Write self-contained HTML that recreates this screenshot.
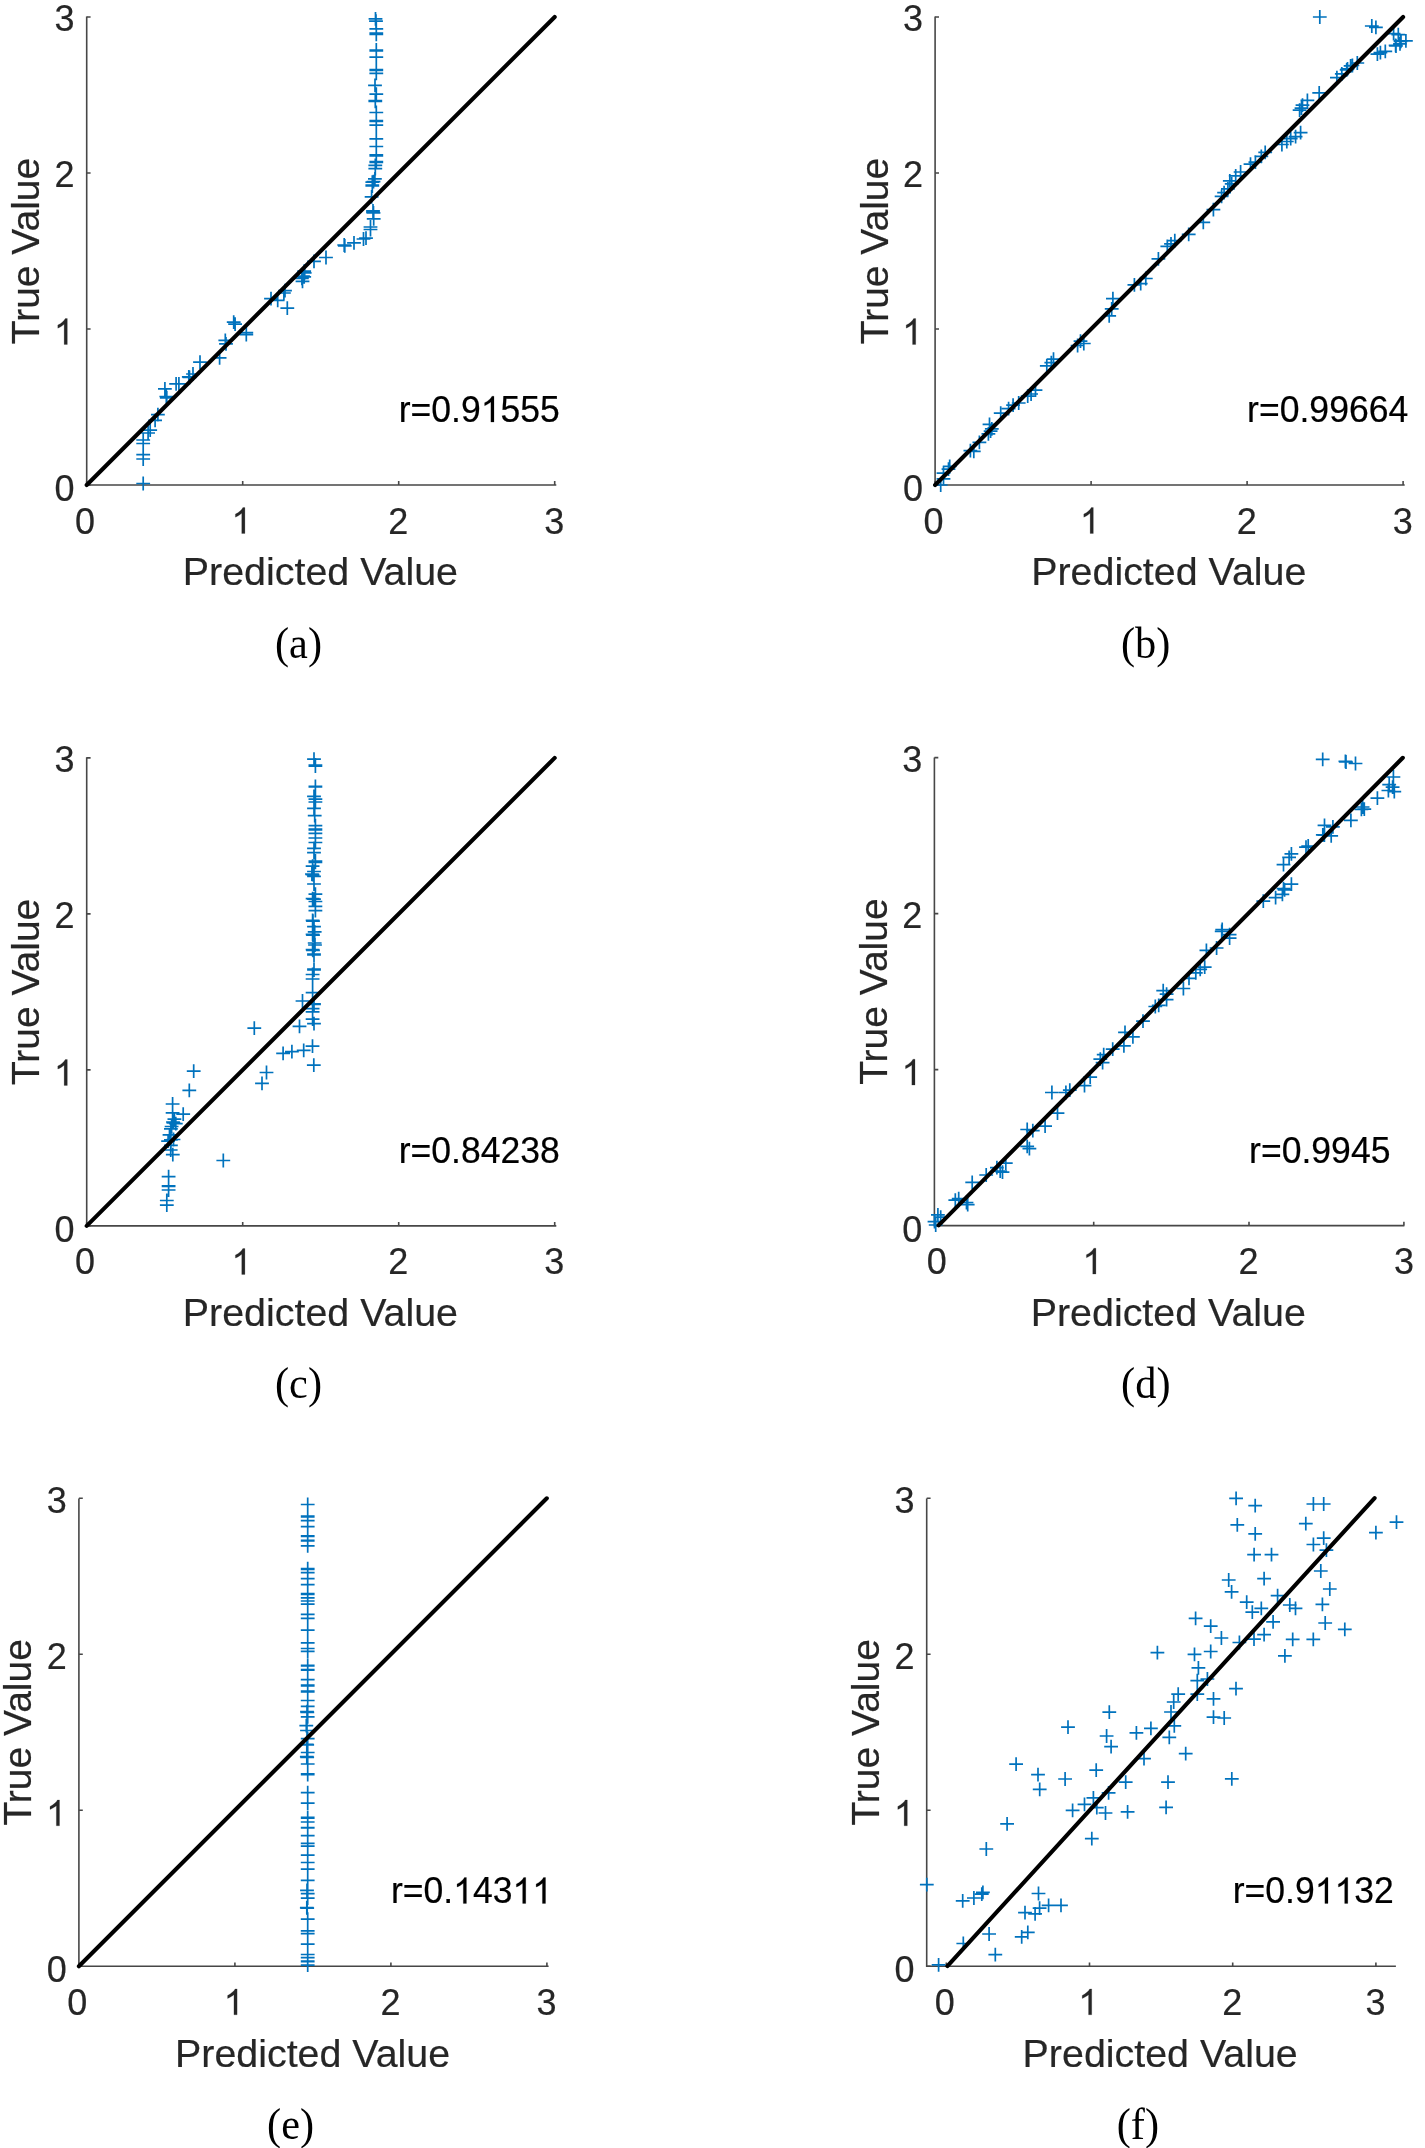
<!DOCTYPE html>
<html><head><meta charset="utf-8"><style>
html,body{margin:0;padding:0;background:#fff;overflow:hidden;}
svg{display:block;will-change:transform;}
.tk{font-family:"Liberation Sans",sans-serif;font-size:36.0px;fill:#262626;stroke:#262626;stroke-width:0.2px;}
.lbx{font-family:"Liberation Sans",sans-serif;font-size:39.4px;fill:#262626;stroke:#262626;stroke-width:0.2px;}
.rt{font-family:"Liberation Sans",sans-serif;font-size:36px;fill:#000;stroke:#000;stroke-width:0.2px;}
.lby{font-family:"Liberation Sans",sans-serif;font-size:39px;fill:#262626;stroke:#262626;stroke-width:0.2px;}
.cap{font-family:"Liberation Serif",serif;font-size:43px;fill:#000;}
</style></head><body>
<svg width="1425" height="2148" viewBox="0 0 1425 2148">
<rect width="1425" height="2148" fill="#fff"/>
<path d="M86.7 16.5V485.0H556.3" fill="none" stroke="#474747" stroke-width="1.6"/>
<path d="M86.7 485.0v-3.9M86.7 485.0h3.9M242.7 485.0v-3.9M86.7 329.0h3.9M398.7 485.0v-3.9M86.7 173.0h3.9M554.7 485.0v-3.9M86.7 17.0h3.9" stroke="#474747" stroke-width="1.6"/>
<text x="85.1" y="533.5" text-anchor="middle" class="tk">0</text>
<text x="74.6" y="501.0" text-anchor="end" class="tk">0</text>
<path transform="translate(231.50 533.50) scale(0.01758 -0.01758)" d="M763 0H583V1147Q518 1085 412 1023Q306 961 222 930V1104Q373 1175 486 1276Q599 1377 646 1472H763Z" fill="#262626" stroke="#262626" stroke-width="11.4"/>
<path transform="translate(53.90 344.50) scale(0.01758 -0.01758)" d="M763 0H583V1147Q518 1085 412 1023Q306 961 222 930V1104Q373 1175 486 1276Q599 1377 646 1472H763Z" fill="#262626" stroke="#262626" stroke-width="11.4"/>
<text x="398.3" y="533.5" text-anchor="middle" class="tk">2</text>
<text x="74.6" y="187.2" text-anchor="end" class="tk">2</text>
<text x="554.3" y="533.5" text-anchor="middle" class="tk">3</text>
<text x="74.6" y="31.3" text-anchor="end" class="tk">3</text>
<path d="M368.6 18.9h13.8M375.5 12.0v13.8M369.1 21.1h13.8M376.0 14.2v13.8M369.4 28.8h13.8M376.3 21.9v13.8M369.4 33.0h13.8M376.3 26.1v13.8M369.4 34.4h13.8M376.3 27.5v13.8M369.4 50.0h13.8M376.3 43.1v13.8M369.4 50.8h13.8M376.3 43.9v13.8M369.4 57.2h13.8M376.3 50.3v13.8M369.4 69.5h13.8M376.3 62.6v13.8M369.4 70.3h13.8M376.3 63.4v13.8M369.4 73.3h13.8M376.3 66.4v13.8M368.1 85.3h13.8M375.0 78.4v13.8M369.4 94.1h13.8M376.3 87.2v13.8M368.4 100.5h13.8M375.3 93.6v13.8M368.4 101.3h13.8M375.3 94.4v13.8M369.4 112.5h13.8M376.3 105.6v13.8M369.4 120.5h13.8M376.3 113.6v13.8M369.4 121.5h13.8M376.3 114.6v13.8M369.4 125.1h13.8M376.3 118.2v13.8M369.4 138.8h13.8M376.3 131.9v13.8M369.4 146.5h13.8M376.3 139.6v13.8M369.4 154.8h13.8M376.3 147.9v13.8M369.4 155.8h13.8M376.3 148.9v13.8M369.4 161.5h13.8M376.3 154.6v13.8M369.4 162.3h13.8M376.3 155.4v13.8M368.4 165.4h13.8M375.3 158.5v13.8M368.4 168.6h13.8M375.3 161.7v13.8M368.0 178.8h13.8M374.9 171.9v13.8M366.6 181.6h13.8M373.5 174.7v13.8M365.4 185.0h13.8M372.3 178.1v13.8M365.4 186.0h13.8M372.3 179.1v13.8M365.4 182.1h13.8M372.3 175.2v13.8M364.7 196.8h13.8M371.6 189.9v13.8M366.1 210.9h13.8M373.0 204.0v13.8M366.1 212.3h13.8M373.0 205.4v13.8M366.6 212.8h13.8M373.5 205.9v13.8M366.8 218.9h13.8M373.7 212.0v13.8M363.6 227.0h13.8M370.5 220.1v13.8M363.6 229.5h13.8M370.5 222.6v13.8M359.1 238.2h13.8M366.0 231.3v13.8M356.6 239.0h13.8M363.5 232.1v13.8M347.1 242.8h13.8M354.0 235.9v13.8M337.3 245.0h13.8M344.2 238.1v13.8M337.9 245.8h13.8M344.8 238.9v13.8M319.1 257.5h13.8M326.0 250.6v13.8M307.1 261.4h13.8M314.0 254.5v13.8M297.3 271.2h13.8M304.2 264.3v13.8M297.3 276.8h13.8M304.2 269.9v13.8M297.8 272.8h13.8M304.7 265.9v13.8M295.0 278.4h13.8M301.9 271.5v13.8M296.1 276.0h13.8M303.0 269.1v13.8M278.1 290.7h13.8M285.0 283.8v13.8M277.0 293.0h13.8M283.9 286.1v13.8M264.1 298.6h13.8M271.0 291.7v13.8M270.8 300.3h13.8M277.7 293.4v13.8M280.4 308.1h13.8M287.3 301.2v13.8M295.6 281.4h13.8M302.5 274.5v13.8M226.8 322.1h13.8M233.7 315.2v13.8M228.2 324.2h13.8M235.1 317.3v13.8M239.4 332.6h13.8M246.3 325.7v13.8M239.4 334.7h13.8M246.3 327.8v13.8M218.4 340.4h13.8M225.3 333.5v13.8M219.1 343.9h13.8M226.0 337.0v13.8M212.7 357.9h13.8M219.6 351.0v13.8M193.1 362.1h13.8M200.0 355.2v13.8M186.1 374.0h13.8M193.0 367.1v13.8M181.9 376.8h13.8M188.8 369.9v13.8M182.6 377.5h13.8M189.5 370.6v13.8M169.2 383.9h13.8M176.1 377.0v13.8M172.0 383.9h13.8M178.9 377.0v13.8M158.0 388.8h13.8M164.9 381.9v13.8M159.4 396.5h13.8M166.3 389.6v13.8M159.9 397.8h13.8M166.8 390.9v13.8M151.0 414.7h13.8M157.9 407.8v13.8M148.2 420.4h13.8M155.1 413.5v13.8M143.3 430.2h13.8M150.2 423.3v13.8M141.2 433.0h13.8M148.1 426.1v13.8M136.3 440.0h13.8M143.2 433.1v13.8M136.3 443.5h13.8M143.2 436.6v13.8M136.3 454.7h13.8M143.2 447.8v13.8M136.3 459.0h13.8M143.2 452.1v13.8M136.3 483.5h13.8M143.2 476.6v13.8" stroke="#0072BD" stroke-width="1.7" fill="none"/>
<path d="M86.7 485.0L554.7 17.0" stroke="#000" stroke-width="4.1" stroke-linecap="round"/>
<g transform="translate(398.70 422.10) scale(0.988 1.03)"><text x="0.00" y="0" class="rt">r=0.9</text><path transform="translate(83.05 0.00) scale(0.01758 -0.01707)" d="M763 0H583V1147Q518 1085 412 1023Q306 961 222 930V1104Q373 1175 486 1276Q599 1377 646 1472H763Z" fill="#000" stroke="#000" stroke-width="11.4"/><text x="103.07" y="0" class="rt">555</text></g>
<text x="320.4" y="585.2" text-anchor="middle" class="lbx">Predicted Value</text>
<text transform="translate(39.1 251.0) rotate(-90)" text-anchor="middle" class="lby">True Value</text>
<g transform="translate(298.5 658.0) scale(0.985 1.035)"><text x="0" y="0" text-anchor="middle" class="cap">(a)</text></g>
<path d="M935.1 16.5V485.0H1404.7" fill="none" stroke="#474747" stroke-width="1.6"/>
<path d="M935.1 485.0v-3.9M935.1 485.0h3.9M1091.1 485.0v-3.9M935.1 329.0h3.9M1247.1 485.0v-3.9M935.1 173.0h3.9M1403.1 485.0v-3.9M935.1 17.0h3.9" stroke="#474747" stroke-width="1.6"/>
<text x="933.5" y="533.5" text-anchor="middle" class="tk">0</text>
<text x="923.0" y="501.0" text-anchor="end" class="tk">0</text>
<path transform="translate(1079.90 533.50) scale(0.01758 -0.01758)" d="M763 0H583V1147Q518 1085 412 1023Q306 961 222 930V1104Q373 1175 486 1276Q599 1377 646 1472H763Z" fill="#262626" stroke="#262626" stroke-width="11.4"/>
<path transform="translate(902.30 344.50) scale(0.01758 -0.01758)" d="M763 0H583V1147Q518 1085 412 1023Q306 961 222 930V1104Q373 1175 486 1276Q599 1377 646 1472H763Z" fill="#262626" stroke="#262626" stroke-width="11.4"/>
<text x="1246.7" y="533.5" text-anchor="middle" class="tk">2</text>
<text x="923.0" y="187.2" text-anchor="end" class="tk">2</text>
<text x="1402.7" y="533.5" text-anchor="middle" class="tk">3</text>
<text x="923.0" y="31.3" text-anchor="end" class="tk">3</text>
<path d="M933.8 485.0h13.8M940.7 478.1v13.8M936.6 478.8h13.8M943.5 471.9v13.8M936.6 473.2h13.8M943.5 466.3v13.8M941.6 469.2h13.8M948.5 462.3v13.8M942.8 466.4h13.8M949.7 459.5v13.8M963.5 450.7h13.8M970.4 443.8v13.8M966.9 451.3h13.8M973.8 444.4v13.8M972.5 442.3h13.8M979.4 435.4v13.8M983.7 431.1h13.8M990.6 424.2v13.8M984.9 428.8h13.8M991.8 421.9v13.8M982.6 424.3h13.8M989.5 417.4v13.8M981.5 433.9h13.8M988.4 427.0v13.8M993.8 413.1h13.8M1000.7 406.2v13.8M1001.7 408.6h13.8M1008.6 401.7v13.8M1006.2 405.2h13.8M1013.1 398.3v13.8M1011.8 403.0h13.8M1018.7 396.1v13.8M1020.8 396.2h13.8M1027.7 389.3v13.8M1024.2 394.0h13.8M1031.1 387.1v13.8M1028.6 390.1h13.8M1035.5 383.2v13.8M1039.9 365.9h13.8M1046.8 359.0v13.8M1044.4 362.6h13.8M1051.3 355.7v13.8M1046.6 359.2h13.8M1053.5 352.3v13.8M1073.6 341.2h13.8M1080.5 334.3v13.8M1076.9 343.5h13.8M1083.8 336.6v13.8M1070.7 345.5h13.8M1077.6 338.6v13.8M1102.3 315.8h13.8M1109.2 308.9v13.8M1104.8 308.8h13.8M1111.7 301.9v13.8M1106.0 298.7h13.8M1112.9 291.8v13.8M1127.5 284.8h13.8M1134.4 277.9v13.8M1133.8 283.6h13.8M1140.7 276.7v13.8M1138.9 278.5h13.8M1145.8 271.6v13.8M1151.5 258.9h13.8M1158.4 252.0v13.8M1160.4 246.3h13.8M1167.3 239.4v13.8M1164.1 243.8h13.8M1171.0 236.9v13.8M1167.9 240.6h13.8M1174.8 233.7v13.8M1181.8 234.3h13.8M1188.7 227.4v13.8M1196.4 222.3h13.8M1203.3 215.4v13.8M1206.5 209.7h13.8M1213.4 202.8v13.8M1214.7 196.4h13.8M1221.6 189.5v13.8M1217.2 192.6h13.8M1224.1 185.7v13.8M1221.0 188.8h13.8M1227.9 181.9v13.8M1224.8 183.8h13.8M1231.7 176.9v13.8M1222.9 180.8h13.8M1229.8 173.9v13.8M1228.8 175.9h13.8M1235.7 169.0v13.8M1233.7 172.0h13.8M1240.6 165.1v13.8M1243.6 164.1h13.8M1250.5 157.2v13.8M1248.5 162.2h13.8M1255.4 155.3v13.8M1254.4 156.3h13.8M1261.3 149.4v13.8M1258.3 152.3h13.8M1265.2 145.4v13.8M1275.0 144.5h13.8M1281.9 137.6v13.8M1279.9 141.5h13.8M1286.8 134.6v13.8M1283.8 138.6h13.8M1290.7 131.7v13.8M1288.7 136.6h13.8M1295.6 129.7v13.8M1293.7 132.7h13.8M1300.6 125.8v13.8M1292.7 110.1h13.8M1299.6 103.2v13.8M1294.6 108.1h13.8M1301.5 101.2v13.8M1295.6 105.2h13.8M1302.5 98.3v13.8M1300.5 100.3h13.8M1307.4 93.4v13.8M1312.3 92.9h13.8M1319.2 86.0v13.8M1330.0 77.7h13.8M1336.9 70.8v13.8M1334.9 73.8h13.8M1341.8 66.9v13.8M1339.8 69.8h13.8M1346.7 62.9v13.8M1343.7 65.9h13.8M1350.6 59.0v13.8M1340.6 68.9h13.8M1347.5 62.0v13.8M1345.5 65.5h13.8M1352.4 58.6v13.8M1350.4 63.0h13.8M1357.3 56.1v13.8M1312.9 17.0h13.8M1319.8 10.1v13.8M1364.9 26.0h13.8M1371.8 19.1v13.8M1369.0 27.4h13.8M1375.9 20.5v13.8M1386.7 33.6h13.8M1393.6 26.7v13.8M1391.4 34.6h13.8M1398.3 27.7v13.8M1394.1 40.9h13.8M1401.0 34.0v13.8M1393.6 41.5h13.8M1400.5 34.6v13.8M1399.0 40.9h13.8M1405.9 34.0v13.8M1388.7 45.4h13.8M1395.6 38.5v13.8M1389.1 46.0h13.8M1396.0 39.1v13.8M1393.1 43.9h13.8M1400.0 37.0v13.8M1378.4 51.3h13.8M1385.3 44.4v13.8M1373.5 52.7h13.8M1380.4 45.8v13.8M1370.5 54.2h13.8M1377.4 47.3v13.8" stroke="#0072BD" stroke-width="1.7" fill="none"/>
<path d="M935.1 485.0L1403.1 17.0" stroke="#000" stroke-width="4.1" stroke-linecap="round"/>
<g transform="translate(1247.10 422.10) scale(0.988 1.03)"><text x="0.00" y="0" class="rt">r=0.99664</text></g>
<text x="1168.8" y="585.2" text-anchor="middle" class="lbx">Predicted Value</text>
<text transform="translate(887.5 251.0) rotate(-90)" text-anchor="middle" class="lby">True Value</text>
<g transform="translate(1145.6 658.0) scale(0.985 1.035)"><text x="0" y="0" text-anchor="middle" class="cap">(b)</text></g>
<path d="M86.7 757.3V1225.9H556.3" fill="none" stroke="#474747" stroke-width="1.6"/>
<path d="M86.7 1225.9v-3.9M86.7 1225.9h3.9M242.7 1225.9v-3.9M86.7 1069.9h3.9M398.7 1225.9v-3.9M86.7 913.9h3.9M554.7 1225.9v-3.9M86.7 757.9h3.9" stroke="#474747" stroke-width="1.6"/>
<text x="85.1" y="1274.4" text-anchor="middle" class="tk">0</text>
<text x="74.6" y="1241.9" text-anchor="end" class="tk">0</text>
<path transform="translate(231.50 1274.40) scale(0.01758 -0.01758)" d="M763 0H583V1147Q518 1085 412 1023Q306 961 222 930V1104Q373 1175 486 1276Q599 1377 646 1472H763Z" fill="#262626" stroke="#262626" stroke-width="11.4"/>
<path transform="translate(53.90 1085.40) scale(0.01758 -0.01758)" d="M763 0H583V1147Q518 1085 412 1023Q306 961 222 930V1104Q373 1175 486 1276Q599 1377 646 1472H763Z" fill="#262626" stroke="#262626" stroke-width="11.4"/>
<text x="398.3" y="1274.4" text-anchor="middle" class="tk">2</text>
<text x="74.6" y="928.1" text-anchor="end" class="tk">2</text>
<text x="554.3" y="1274.4" text-anchor="middle" class="tk">3</text>
<text x="74.6" y="772.2" text-anchor="end" class="tk">3</text>
<path d="M307.1 759.1h13.8M314.0 752.2v13.8M308.5 765.0h13.8M315.4 758.1v13.8M308.5 766.1h13.8M315.4 759.2v13.8M308.5 786.3h13.8M315.4 779.4v13.8M308.5 786.9h13.8M315.4 780.0v13.8M307.1 796.4h13.8M314.0 789.5v13.8M308.5 799.2h13.8M315.4 792.3v13.8M308.5 802.0h13.8M315.4 795.1v13.8M307.1 808.3h13.8M314.0 801.4v13.8M307.8 815.6h13.8M314.7 808.7v13.8M308.5 825.7h13.8M315.4 818.8v13.8M308.5 829.2h13.8M315.4 822.3v13.8M308.5 830.0h13.8M315.4 823.1v13.8M308.5 833.4h13.8M315.4 826.5v13.8M308.5 838.0h13.8M315.4 831.1v13.8M308.5 842.5h13.8M315.4 835.6v13.8M307.1 848.4h13.8M314.0 841.5v13.8M307.1 852.6h13.8M314.0 845.7v13.8M308.5 861.0h13.8M315.4 854.1v13.8M308.5 862.4h13.8M315.4 855.5v13.8M305.7 866.2h13.8M312.6 859.3v13.8M307.1 871.5h13.8M314.0 864.6v13.8M305.0 874.0h13.8M311.9 867.1v13.8M305.6 874.6h13.8M312.5 867.7v13.8M307.1 876.4h13.8M314.0 869.5v13.8M307.1 884.0h13.8M314.0 877.1v13.8M308.5 894.2h13.8M315.4 887.3v13.8M305.7 898.7h13.8M312.6 891.8v13.8M307.1 899.1h13.8M314.0 892.2v13.8M308.5 901.5h13.8M315.4 894.6v13.8M308.5 906.4h13.8M315.4 899.5v13.8M308.5 910.6h13.8M315.4 903.7v13.8M305.7 920.3h13.8M312.6 913.4v13.8M306.1 921.1h13.8M313.0 914.2v13.8M307.1 926.6h13.8M314.0 919.7v13.8M307.8 931.9h13.8M314.7 925.0v13.8M305.7 934.3h13.8M312.6 927.4v13.8M306.1 935.1h13.8M313.0 928.2v13.8M307.8 943.0h13.8M314.7 936.1v13.8M308.1 945.0h13.8M315.0 938.1v13.8M305.7 949.6h13.8M312.6 942.7v13.8M306.1 950.4h13.8M313.0 943.5v13.8M307.1 954.2h13.8M314.0 947.3v13.8M307.1 955.0h13.8M314.0 948.1v13.8M307.1 969.2h13.8M314.0 962.3v13.8M307.1 970.0h13.8M314.0 963.1v13.8M305.7 974.5h13.8M312.6 967.6v13.8M305.7 979.0h13.8M312.6 972.1v13.8M305.7 992.6h13.8M312.6 985.7v13.8M295.6 1001.0h13.8M302.5 994.1v13.8M307.1 1003.8h13.8M314.0 996.9v13.8M307.1 1004.5h13.8M314.0 997.6v13.8M305.7 1008.7h13.8M312.6 1001.8v13.8M305.7 1011.8h13.8M312.6 1004.9v13.8M305.7 1019.1h13.8M312.6 1012.2v13.8M307.1 1023.7h13.8M314.0 1016.8v13.8M292.6 1026.3h13.8M299.5 1019.4v13.8M247.4 1028.2h13.8M254.3 1021.3v13.8M276.2 1053.4h13.8M283.1 1046.5v13.8M285.0 1051.7h13.8M291.9 1044.8v13.8M296.8 1050.4h13.8M303.7 1043.5v13.8M305.6 1046.2h13.8M312.5 1039.3v13.8M306.9 1065.2h13.8M313.8 1058.3v13.8M259.6 1072.5h13.8M266.5 1065.6v13.8M255.1 1083.3h13.8M262.0 1076.4v13.8M186.8 1071.1h13.8M193.7 1064.2v13.8M182.4 1090.4h13.8M189.3 1083.5v13.8M165.7 1104.0h13.8M172.6 1097.1v13.8M165.7 1112.8h13.8M172.6 1105.9v13.8M176.3 1114.2h13.8M183.2 1107.3v13.8M167.5 1119.1h13.8M174.4 1112.2v13.8M166.1 1122.0h13.8M173.0 1115.1v13.8M166.5 1122.8h13.8M173.4 1115.9v13.8M168.9 1123.7h13.8M175.8 1116.8v13.8M164.7 1126.5h13.8M171.6 1119.6v13.8M164.0 1128.9h13.8M170.9 1122.0v13.8M162.6 1134.9h13.8M169.5 1128.0v13.8M164.0 1139.8h13.8M170.9 1132.9v13.8M161.2 1141.2h13.8M168.1 1134.3v13.8M164.0 1145.4h13.8M170.9 1138.5v13.8M166.6 1139.5h13.8M173.5 1132.6v13.8M163.8 1150.0h13.8M170.7 1143.1v13.8M165.9 1154.6h13.8M172.8 1147.7v13.8M216.4 1160.5h13.8M223.3 1153.6v13.8M161.7 1176.7h13.8M168.6 1169.8v13.8M161.7 1185.8h13.8M168.6 1178.9v13.8M161.7 1186.5h13.8M168.6 1179.6v13.8M161.7 1190.0h13.8M168.6 1183.1v13.8M159.9 1200.5h13.8M166.8 1193.6v13.8M159.9 1205.1h13.8M166.8 1198.2v13.8" stroke="#0072BD" stroke-width="1.7" fill="none"/>
<path d="M86.7 1225.9L554.7 757.9" stroke="#000" stroke-width="4.1" stroke-linecap="round"/>
<g transform="translate(398.70 1163.00) scale(0.988 1.03)"><text x="0.00" y="0" class="rt">r=0.84238</text></g>
<text x="320.4" y="1326.1" text-anchor="middle" class="lbx">Predicted Value</text>
<text transform="translate(39.1 991.9) rotate(-90)" text-anchor="middle" class="lby">True Value</text>
<g transform="translate(298.5 1398.0) scale(0.985 1.035)"><text x="0" y="0" text-anchor="middle" class="cap">(c)</text></g>
<path d="M934.4 757.5V1225.6H1404.4" fill="none" stroke="#474747" stroke-width="1.6"/>
<path d="M938.4 1225.6v-3.9M934.4 1225.6h3.9M1093.7 1225.6v-3.9M934.4 1069.6h3.9M1249.0 1225.6v-3.9M934.4 913.6h3.9M1403.9 1225.6v-3.9M934.4 757.6h3.9" stroke="#474747" stroke-width="1.6"/>
<text x="936.8" y="1274.1" text-anchor="middle" class="tk">0</text>
<text x="922.3" y="1241.6" text-anchor="end" class="tk">0</text>
<path transform="translate(1082.50 1274.10) scale(0.01758 -0.01758)" d="M763 0H583V1147Q518 1085 412 1023Q306 961 222 930V1104Q373 1175 486 1276Q599 1377 646 1472H763Z" fill="#262626" stroke="#262626" stroke-width="11.4"/>
<path transform="translate(901.60 1085.10) scale(0.01758 -0.01758)" d="M763 0H583V1147Q518 1085 412 1023Q306 961 222 930V1104Q373 1175 486 1276Q599 1377 646 1472H763Z" fill="#262626" stroke="#262626" stroke-width="11.4"/>
<text x="1248.6" y="1274.1" text-anchor="middle" class="tk">2</text>
<text x="922.3" y="927.8" text-anchor="end" class="tk">2</text>
<text x="1404.0" y="1274.1" text-anchor="middle" class="tk">3</text>
<text x="922.3" y="771.9" text-anchor="end" class="tk">3</text>
<path d="M927.6 1221.6h13.8M934.5 1214.7v13.8M931.0 1214.8h13.8M937.9 1207.9v13.8M933.8 1217.1h13.8M940.7 1210.2v13.8M928.8 1225.0h13.8M935.7 1218.1v13.8M948.4 1200.2h13.8M955.3 1193.3v13.8M951.8 1198.6h13.8M958.7 1191.7v13.8M959.6 1202.5h13.8M966.5 1195.6v13.8M960.8 1204.7h13.8M967.7 1197.8v13.8M965.3 1182.3h13.8M972.2 1175.4v13.8M979.3 1175.0h13.8M986.2 1168.1v13.8M990.0 1167.7h13.8M996.9 1160.8v13.8M993.3 1171.1h13.8M1000.2 1164.2v13.8M995.6 1172.2h13.8M1002.5 1165.3v13.8M998.9 1163.2h13.8M1005.8 1156.3v13.8M1020.3 1129.5h13.8M1027.2 1122.6v13.8M1025.9 1130.6h13.8M1032.8 1123.7v13.8M1020.3 1146.4h13.8M1027.2 1139.5v13.8M1022.5 1148.6h13.8M1029.4 1141.7v13.8M1038.2 1126.1h13.8M1045.1 1119.2v13.8M1050.6 1113.2h13.8M1057.5 1106.3v13.8M1045.0 1092.5h13.8M1051.9 1085.6v13.8M1059.0 1092.5h13.8M1065.9 1085.6v13.8M1062.9 1090.2h13.8M1069.8 1083.3v13.8M1077.6 1085.6h13.8M1084.5 1078.7v13.8M1083.3 1077.2h13.8M1090.2 1070.3v13.8M1093.4 1059.2h13.8M1100.3 1052.3v13.8M1095.7 1062.6h13.8M1102.6 1055.7v13.8M1096.8 1054.7h13.8M1103.7 1047.8v13.8M1105.8 1049.1h13.8M1112.7 1042.2v13.8M1117.0 1045.8h13.8M1123.9 1038.9v13.8M1118.1 1032.3h13.8M1125.0 1025.4v13.8M1126.0 1036.8h13.8M1132.9 1029.9v13.8M1136.1 1021.1h13.8M1143.0 1014.2v13.8M1148.4 1006.5h13.8M1155.3 999.6v13.8M1151.8 1005.3h13.8M1158.7 998.4v13.8M1156.3 990.7h13.8M1163.2 983.8v13.8M1159.7 994.1h13.8M1166.6 987.2v13.8M1159.7 999.7h13.8M1166.6 992.8v13.8M1176.5 988.5h13.8M1183.4 981.6v13.8M1182.1 978.4h13.8M1189.0 971.5v13.8M1188.9 972.8h13.8M1195.8 965.9v13.8M1193.3 969.4h13.8M1200.2 962.5v13.8M1197.8 967.2h13.8M1204.7 960.3v13.8M1199.5 950.3h13.8M1206.4 943.4v13.8M1209.7 948.0h13.8M1216.6 941.1v13.8M1215.3 929.5h13.8M1222.2 922.6v13.8M1214.8 931.4h13.8M1221.7 924.5v13.8M1222.7 934.7h13.8M1229.6 927.8v13.8M1222.7 938.1h13.8M1229.6 931.2v13.8M1256.4 901.1h13.8M1263.3 894.2v13.8M1268.7 897.7h13.8M1275.6 890.8v13.8M1275.5 894.3h13.8M1282.4 887.4v13.8M1276.6 888.7h13.8M1283.5 881.8v13.8M1284.5 884.2h13.8M1291.4 877.3v13.8M1277.7 889.8h13.8M1284.6 882.9v13.8M1276.6 864.6h13.8M1283.5 857.7v13.8M1282.2 857.3h13.8M1289.1 850.4v13.8M1284.5 853.9h13.8M1291.4 847.0v13.8M1299.1 847.2h13.8M1306.0 840.3v13.8M1301.3 846.0h13.8M1308.2 839.1v13.8M1317.6 825.3h13.8M1324.5 818.4v13.8M1315.9 834.8h13.8M1322.8 827.9v13.8M1324.3 835.9h13.8M1331.2 829.0v13.8M1326.0 826.9h13.8M1332.9 820.0v13.8M1317.5 835.1h13.8M1324.4 828.2v13.8M1344.0 820.3h13.8M1350.9 813.4v13.8M1355.7 807.0h13.8M1362.6 800.1v13.8M1357.4 809.2h13.8M1364.3 802.3v13.8M1354.5 809.4h13.8M1361.4 802.5v13.8M1370.5 798.1h13.8M1377.4 791.2v13.8M1386.5 777.0h13.8M1393.4 770.1v13.8M1382.3 784.6h13.8M1389.2 777.7v13.8M1385.7 787.1h13.8M1392.6 780.2v13.8M1387.4 791.7h13.8M1394.3 784.8v13.8M1381.5 790.5h13.8M1388.4 783.6v13.8M1315.8 759.3h13.8M1322.7 752.4v13.8M1338.5 761.4h13.8M1345.4 754.5v13.8M1339.1 762.0h13.8M1346.0 755.1v13.8M1348.6 763.5h13.8M1355.5 756.6v13.8" stroke="#0072BD" stroke-width="1.7" fill="none"/>
<path d="M938.6 1225.4L1402.8 757.8" stroke="#000" stroke-width="4.1" stroke-linecap="round"/>
<g transform="translate(1249.05 1162.70) scale(0.988 1.03)"><text x="0.00" y="0" class="rt">r=0.9945</text></g>
<text x="1168.3" y="1325.8" text-anchor="middle" class="lbx">Predicted Value</text>
<text transform="translate(886.8 991.6) rotate(-90)" text-anchor="middle" class="lby">True Value</text>
<g transform="translate(1145.8 1398.0) scale(0.985 1.035)"><text x="0" y="0" text-anchor="middle" class="cap">(d)</text></g>
<path d="M78.9 1498.4V1966.3H548.6" fill="none" stroke="#474747" stroke-width="1.6"/>
<path d="M78.9 1966.3v-3.9M78.9 1966.3h3.9M234.9 1966.3v-3.9M78.9 1810.3h3.9M390.9 1966.3v-3.9M78.9 1654.3h3.9M546.9 1966.3v-3.9M78.9 1498.3h3.9" stroke="#474747" stroke-width="1.6"/>
<text x="77.3" y="2014.8" text-anchor="middle" class="tk">0</text>
<text x="66.8" y="1982.3" text-anchor="end" class="tk">0</text>
<path transform="translate(223.70 2014.80) scale(0.01758 -0.01758)" d="M763 0H583V1147Q518 1085 412 1023Q306 961 222 930V1104Q373 1175 486 1276Q599 1377 646 1472H763Z" fill="#262626" stroke="#262626" stroke-width="11.4"/>
<path transform="translate(46.10 1825.80) scale(0.01758 -0.01758)" d="M763 0H583V1147Q518 1085 412 1023Q306 961 222 930V1104Q373 1175 486 1276Q599 1377 646 1472H763Z" fill="#262626" stroke="#262626" stroke-width="11.4"/>
<text x="390.5" y="2014.8" text-anchor="middle" class="tk">2</text>
<text x="66.8" y="1668.5" text-anchor="end" class="tk">2</text>
<text x="546.5" y="2014.8" text-anchor="middle" class="tk">3</text>
<text x="66.8" y="1512.6" text-anchor="end" class="tk">3</text>
<path d="M300.8 1504.5h13.8M307.7 1497.6v13.8M300.8 1516.2h13.8M307.7 1509.3v13.8M300.8 1516.9h13.8M307.7 1510.0v13.8M300.8 1520.7h13.8M307.7 1513.8v13.8M300.8 1526.6h13.8M307.7 1519.7v13.8M300.8 1535.8h13.8M307.7 1528.9v13.8M300.8 1536.5h13.8M307.7 1529.6v13.8M300.8 1540.3h13.8M307.7 1533.4v13.8M300.8 1541.0h13.8M307.7 1534.1v13.8M300.8 1545.8h13.8M307.7 1538.9v13.8M300.8 1568.6h13.8M307.7 1561.7v13.8M300.8 1569.3h13.8M307.7 1562.4v13.8M300.8 1572.7h13.8M307.7 1565.8v13.8M300.8 1578.7h13.8M307.7 1571.8v13.8M300.8 1584.6h13.8M307.7 1577.7v13.8M300.8 1593.7h13.8M307.7 1586.8v13.8M300.8 1594.4h13.8M307.7 1587.5v13.8M300.8 1597.9h13.8M307.7 1591.0v13.8M300.8 1601.0h13.8M307.7 1594.1v13.8M300.8 1604.1h13.8M307.7 1597.2v13.8M300.8 1614.3h13.8M307.7 1607.4v13.8M300.8 1618.4h13.8M307.7 1611.5v13.8M300.8 1630.2h13.8M307.7 1623.3v13.8M300.8 1642.9h13.8M307.7 1636.0v13.8M300.8 1648.5h13.8M307.7 1641.6v13.8M300.8 1651.3h13.8M307.7 1644.4v13.8M300.8 1665.3h13.8M307.7 1658.4v13.8M300.8 1666.0h13.8M307.7 1659.1v13.8M300.8 1669.5h13.8M307.7 1662.6v13.8M300.8 1670.2h13.8M307.7 1663.3v13.8M300.8 1679.6h13.8M307.7 1672.7v13.8M300.8 1685.2h13.8M307.7 1678.3v13.8M300.8 1685.9h13.8M307.7 1679.0v13.8M300.8 1691.1h13.8M307.7 1684.2v13.8M300.8 1691.8h13.8M307.7 1684.9v13.8M300.8 1700.5h13.8M307.7 1693.6v13.8M300.8 1706.4h13.8M307.7 1699.5v13.8M300.8 1716.9h13.8M307.7 1710.0v13.8M300.8 1738.6h13.8M307.7 1731.7v13.8M300.8 1752.5h13.8M307.7 1745.6v13.8M300.8 1764.0h13.8M307.7 1757.1v13.8M300.8 1792.7h13.8M307.7 1785.8v13.8M300.8 1803.2h13.8M307.7 1796.3v13.8M300.8 1817.3h13.8M307.7 1810.4v13.8M300.8 1818.1h13.8M307.7 1811.2v13.8M300.8 1822.0h13.8M307.7 1815.1v13.8M300.8 1827.6h13.8M307.7 1820.7v13.8M300.8 1835.6h13.8M307.7 1828.7v13.8M300.8 1843.3h13.8M307.7 1836.4v13.8M300.8 1846.1h13.8M307.7 1839.2v13.8M300.8 1855.2h13.8M307.7 1848.3v13.8M300.8 1862.5h13.8M307.7 1855.6v13.8M300.8 1869.1h13.8M307.7 1862.2v13.8M300.8 1880.3h13.8M307.7 1873.4v13.8M300.8 1893.6h13.8M307.7 1886.7v13.8M300.8 1898.1h13.8M307.7 1891.2v13.8M300.8 1919.1h13.8M307.7 1912.2v13.8M300.8 1930.9h13.8M307.7 1924.0v13.8M300.8 1933.7h13.8M307.7 1926.8v13.8M300.8 1944.1h13.8M307.7 1937.2v13.8M300.8 1954.5h13.8M307.7 1947.6v13.8M300.8 1957.6h13.8M307.7 1950.7v13.8M300.8 1961.0h13.8M307.7 1954.1v13.8M300.8 1961.6h13.8M307.7 1954.7v13.8M300.8 1965.1h13.8M307.7 1958.2v13.8M300.1 1711.7h13.8M307.0 1704.8v13.8M300.4 1712.3h13.8M307.3 1705.4v13.8M299.4 1725.6h13.8M306.3 1718.7v13.8M300.1 1730.5h13.8M307.0 1723.6v13.8M299.9 1744.3h13.8M306.8 1737.4v13.8M300.3 1744.8h13.8M307.2 1737.9v13.8M299.9 1756.7h13.8M306.8 1749.8v13.8M300.3 1757.3h13.8M307.2 1750.4v13.8M300.8 1773.9h13.8M307.7 1767.0v13.8M300.8 1774.6h13.8M307.7 1767.7v13.8M300.8 1827.9h13.8M307.7 1821.0v13.8M300.1 1890.4h13.8M307.0 1883.5v13.8M299.9 1907.6h13.8M306.8 1900.7v13.8M300.3 1908.2h13.8M307.2 1901.3v13.8" stroke="#0072BD" stroke-width="1.7" fill="none"/>
<path d="M78.9 1966.3L546.8 1498.3" stroke="#000" stroke-width="4.1" stroke-linecap="round"/>
<g transform="translate(390.90 1903.40) scale(0.988 1.03)"><text x="0.00" y="0" class="rt">r=0.</text><path transform="translate(63.04 0.00) scale(0.01758 -0.01707)" d="M763 0H583V1147Q518 1085 412 1023Q306 961 222 930V1104Q373 1175 486 1276Q599 1377 646 1472H763Z" fill="#000" stroke="#000" stroke-width="11.4"/><text x="83.05" y="0" class="rt">43</text><path transform="translate(123.08 0.00) scale(0.01758 -0.01707)" d="M763 0H583V1147Q518 1085 412 1023Q306 961 222 930V1104Q373 1175 486 1276Q599 1377 646 1472H763Z" fill="#000" stroke="#000" stroke-width="11.4"/><path transform="translate(143.10 0.00) scale(0.01758 -0.01707)" d="M763 0H583V1147Q518 1085 412 1023Q306 961 222 930V1104Q373 1175 486 1276Q599 1377 646 1472H763Z" fill="#000" stroke="#000" stroke-width="11.4"/></g>
<text x="312.6" y="2066.5" text-anchor="middle" class="lbx">Predicted Value</text>
<text transform="translate(31.3 1732.3) rotate(-90)" text-anchor="middle" class="lby">True Value</text>
<g transform="translate(290.6 2138.5) scale(0.985 1.035)"><text x="0" y="0" text-anchor="middle" class="cap">(e)</text></g>
<path d="M926.7 1498.4V1966.3H1395.9" fill="none" stroke="#474747" stroke-width="1.6"/>
<path d="M946.3 1966.3v-3.9M926.7 1966.3h3.9M1089.5 1966.3v-3.9M926.7 1810.3h3.9M1232.7 1966.3v-3.9M926.7 1654.3h3.9M1375.9 1966.3v-3.9M926.7 1498.3h3.9" stroke="#474747" stroke-width="1.6"/>
<text x="944.7" y="2014.8" text-anchor="middle" class="tk">0</text>
<text x="914.6" y="1982.3" text-anchor="end" class="tk">0</text>
<path transform="translate(1078.30 2014.80) scale(0.01758 -0.01758)" d="M763 0H583V1147Q518 1085 412 1023Q306 961 222 930V1104Q373 1175 486 1276Q599 1377 646 1472H763Z" fill="#262626" stroke="#262626" stroke-width="11.4"/>
<path transform="translate(893.90 1825.80) scale(0.01758 -0.01758)" d="M763 0H583V1147Q518 1085 412 1023Q306 961 222 930V1104Q373 1175 486 1276Q599 1377 646 1472H763Z" fill="#262626" stroke="#262626" stroke-width="11.4"/>
<text x="1232.3" y="2014.8" text-anchor="middle" class="tk">2</text>
<text x="914.6" y="1668.5" text-anchor="end" class="tk">2</text>
<text x="1375.5" y="2014.8" text-anchor="middle" class="tk">3</text>
<text x="914.6" y="1512.6" text-anchor="end" class="tk">3</text>
<path d="M1000.2 1823.9h13.8M1007.1 1817.0v13.8M979.4 1849.0h13.8M986.3 1842.1v13.8M919.9 1884.6h13.8M926.8 1877.7v13.8M955.8 1900.8h13.8M962.7 1893.9v13.8M967.0 1898.0h13.8M973.9 1891.1v13.8M974.9 1894.1h13.8M981.8 1887.2v13.8M976.0 1892.4h13.8M982.9 1885.5v13.8M1031.6 1893.5h13.8M1038.5 1886.6v13.8M1032.7 1908.1h13.8M1039.6 1901.2v13.8M1041.7 1905.3h13.8M1048.6 1898.4v13.8M1054.1 1905.3h13.8M1061.0 1898.4v13.8M1018.1 1912.6h13.8M1025.0 1905.7v13.8M1028.2 1913.8h13.8M1035.1 1906.9v13.8M982.2 1934.0h13.8M989.1 1927.1v13.8M1020.9 1932.3h13.8M1027.8 1925.4v13.8M1014.8 1936.8h13.8M1021.7 1929.9v13.8M956.4 1943.5h13.8M963.3 1936.6v13.8M988.4 1954.7h13.8M995.3 1947.8v13.8M931.7 1964.8h13.8M938.6 1957.9v13.8M1102.4 1712.2h13.8M1109.3 1705.3v13.8M1061.1 1727.1h13.8M1068.0 1720.2v13.8M1099.7 1736.0h13.8M1106.6 1729.1v13.8M1104.2 1746.7h13.8M1111.1 1739.8v13.8M1129.5 1732.8h13.8M1136.4 1725.9v13.8M1144.0 1728.4h13.8M1150.9 1721.5v13.8M1164.1 1712.0h13.8M1171.0 1705.1v13.8M1166.8 1702.0h13.8M1173.7 1695.1v13.8M1167.4 1725.9h13.8M1174.3 1719.0v13.8M1162.4 1737.3h13.8M1169.3 1730.4v13.8M1206.6 1698.9h13.8M1213.5 1692.0v13.8M1206.6 1717.1h13.8M1213.5 1710.2v13.8M1217.3 1718.0h13.8M1224.2 1711.1v13.8M1178.8 1753.7h13.8M1185.7 1746.8v13.8M1137.1 1758.7h13.8M1144.0 1751.8v13.8M1089.3 1770.2h13.8M1096.2 1763.3v13.8M1058.2 1779.0h13.8M1065.1 1772.1v13.8M1118.8 1782.1h13.8M1125.7 1775.2v13.8M1161.1 1782.1h13.8M1168.0 1775.2v13.8M1224.9 1778.9h13.8M1231.8 1772.0v13.8M1101.7 1792.8h13.8M1108.6 1785.9v13.8M1086.5 1797.8h13.8M1093.4 1790.9v13.8M1077.6 1804.3h13.8M1084.5 1797.4v13.8M1089.9 1807.6h13.8M1096.8 1800.7v13.8M1065.7 1810.4h13.8M1072.6 1803.5v13.8M1098.6 1813.0h13.8M1105.5 1806.1v13.8M1120.7 1811.8h13.8M1127.6 1804.9v13.8M1159.2 1807.4h13.8M1166.1 1800.5v13.8M1084.9 1838.6h13.8M1091.8 1831.7v13.8M1009.2 1764.1h13.8M1016.1 1757.2v13.8M1031.1 1774.7h13.8M1038.0 1767.8v13.8M1032.8 1789.4h13.8M1039.7 1782.5v13.8M1221.8 1580.0h13.8M1228.7 1573.1v13.8M1257.2 1578.6h13.8M1264.1 1571.7v13.8M1224.7 1591.8h13.8M1231.6 1584.9v13.8M1239.8 1602.1h13.8M1246.7 1595.2v13.8M1245.4 1612.2h13.8M1252.3 1605.3v13.8M1254.4 1608.3h13.8M1261.3 1601.4v13.8M1270.7 1595.7h13.8M1277.6 1588.8v13.8M1282.9 1605.0h13.8M1289.8 1598.1v13.8M1288.6 1608.3h13.8M1295.5 1601.4v13.8M1266.2 1621.8h13.8M1273.1 1614.9v13.8M1257.2 1634.7h13.8M1264.1 1627.8v13.8M1247.1 1639.2h13.8M1254.0 1632.3v13.8M1285.8 1639.3h13.8M1292.7 1632.4v13.8M1278.0 1655.9h13.8M1284.9 1649.0v13.8M1188.7 1618.4h13.8M1195.6 1611.5v13.8M1203.8 1626.2h13.8M1210.7 1619.3v13.8M1214.5 1638.0h13.8M1221.4 1631.1v13.8M1232.5 1642.5h13.8M1239.4 1635.6v13.8M1150.5 1652.6h13.8M1157.4 1645.7v13.8M1187.6 1654.3h13.8M1194.5 1647.4v13.8M1203.8 1651.5h13.8M1210.7 1644.6v13.8M1191.5 1667.8h13.8M1198.4 1660.9v13.8M1190.4 1680.7h13.8M1197.3 1673.8v13.8M1200.5 1679.0h13.8M1207.4 1672.1v13.8M1229.1 1688.6h13.8M1236.0 1681.7v13.8M1171.3 1694.2h13.8M1178.2 1687.3v13.8M1190.4 1694.2h13.8M1197.3 1687.3v13.8M1229.2 1498.4h13.8M1236.1 1491.5v13.8M1248.3 1505.7h13.8M1255.2 1498.8v13.8M1230.4 1524.8h13.8M1237.3 1517.9v13.8M1248.3 1533.8h13.8M1255.2 1526.9v13.8M1247.2 1554.6h13.8M1254.1 1547.7v13.8M1264.6 1554.6h13.8M1271.5 1547.7v13.8M1306.5 1504.0h13.8M1313.4 1497.1v13.8M1316.8 1504.0h13.8M1323.7 1497.1v13.8M1298.9 1523.6h13.8M1305.8 1516.7v13.8M1316.8 1538.1h13.8M1323.7 1531.2v13.8M1306.5 1544.5h13.8M1313.4 1537.6v13.8M1319.5 1550.1h13.8M1326.4 1543.2v13.8M1313.9 1571.0h13.8M1320.8 1564.1v13.8M1322.9 1589.0h13.8M1329.8 1582.1v13.8M1315.5 1604.3h13.8M1322.4 1597.4v13.8M1318.3 1623.0h13.8M1325.2 1616.1v13.8M1337.9 1629.3h13.8M1344.8 1622.4v13.8M1306.4 1639.4h13.8M1313.3 1632.5v13.8M1369.0 1532.6h13.8M1375.9 1525.7v13.8M1389.6 1522.1h13.8M1396.5 1515.2v13.8" stroke="#0072BD" stroke-width="1.7" fill="none"/>
<path d="M947.4 1966.1L1374.6 1498.1" stroke="#000" stroke-width="4.1" stroke-linecap="round"/>
<g transform="translate(1232.70 1903.40) scale(0.988 1.03)"><text x="0.00" y="0" class="rt">r=0.9</text><path transform="translate(83.05 0.00) scale(0.01758 -0.01707)" d="M763 0H583V1147Q518 1085 412 1023Q306 961 222 930V1104Q373 1175 486 1276Q599 1377 646 1472H763Z" fill="#000" stroke="#000" stroke-width="11.4"/><path transform="translate(103.07 0.00) scale(0.01758 -0.01707)" d="M763 0H583V1147Q518 1085 412 1023Q306 961 222 930V1104Q373 1175 486 1276Q599 1377 646 1472H763Z" fill="#000" stroke="#000" stroke-width="11.4"/><text x="123.08" y="0" class="rt">32</text></g>
<text x="1160.2" y="2066.5" text-anchor="middle" class="lbx">Predicted Value</text>
<text transform="translate(879.1 1732.3) rotate(-90)" text-anchor="middle" class="lby">True Value</text>
<g transform="translate(1137.9 2138.5) scale(0.985 1.035)"><text x="0" y="0" text-anchor="middle" class="cap">(f)</text></g>
</svg>
</body></html>
